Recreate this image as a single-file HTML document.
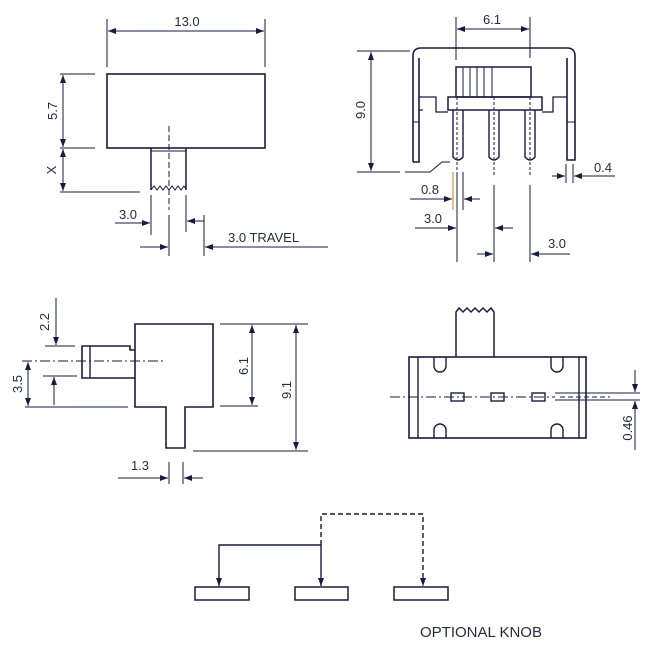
<!DOCTYPE html>
<html><head><meta charset="utf-8"><style>
html,body{margin:0;padding:0;background:#fff}
svg{display:block}
text{font-family:"Liberation Sans",sans-serif;font-size:13px;fill:#2a2a3a}
</style></head><body>
<svg width="650" height="665" viewBox="0 0 650 665" xmlns="http://www.w3.org/2000/svg">
<defs>
<marker id="a" markerWidth="8" markerHeight="6" refX="8" refY="3" orient="auto" markerUnits="userSpaceOnUse"><path d="M0,0 L8,3 L0,6 z" fill="#1a1a40"/></marker>
</defs>
<g stroke="#1a1a40" stroke-width="1" fill="none">
<!-- Top-left view -->
<line x1="107" y1="19" x2="107" y2="67"/><line x1="265" y1="19" x2="265" y2="67"/>
<line x1="187" y1="31" x2="108" y2="31" marker-end="url(#a)"/><line x1="187" y1="31" x2="264" y2="31" marker-end="url(#a)"/>
<rect x="107" y="74" width="158" height="74" stroke-width="1.6"/>
<line x1="60" y1="74" x2="95" y2="74"/><line x1="60" y1="148" x2="95" y2="148"/><line x1="60" y1="192" x2="140" y2="192"/>
<line x1="63" y1="110" x2="63" y2="75" marker-end="url(#a)"/><line x1="63" y1="110" x2="63" y2="147" marker-end="url(#a)"/>
<line x1="63" y1="170" x2="63" y2="149" marker-end="url(#a)"/><line x1="63" y1="170" x2="63" y2="191" marker-end="url(#a)"/>
<path d="M151,148 V190 M186,148 V190" stroke-width="1.5"/>
<line x1="151" y1="151" x2="186" y2="151"/>
<path d="M151,190 l3,-4 l3,4 l3,-4 l3,4 l3,-4 l3,4 l3,-4 l3,4 l3,-4 l3,4 l3,-4 l2,3"/>
<line x1="169" y1="126" x2="169" y2="210" stroke-dasharray="6,3"/>
<line x1="151" y1="195" x2="151" y2="235"/><line x1="186" y1="195" x2="186" y2="232"/>
<line x1="169" y1="215" x2="169" y2="256"/><line x1="204" y1="215" x2="204" y2="256"/>
<line x1="115" y1="223" x2="150" y2="223" marker-end="url(#a)"/>
<line x1="140" y1="247" x2="168" y2="247" marker-end="url(#a)"/>
<line x1="204" y1="221" x2="187" y2="221" marker-end="url(#a)"/>
<line x1="328" y1="247" x2="205" y2="247" marker-end="url(#a)"/>
<!-- Top-right view -->
<line x1="456" y1="17" x2="456" y2="60"/><line x1="530" y1="17" x2="530" y2="58"/>
<line x1="493" y1="29" x2="457" y2="29" marker-end="url(#a)"/><line x1="493" y1="29" x2="529" y2="29" marker-end="url(#a)"/>
<path d="M413,162 V56 Q413,48 421,48 H567 Q575,48 575,56 V160 H567 V58" stroke-width="1.6"/>
<path d="M413,162 H419 V58" stroke-width="1.6"/>
<line x1="413" y1="122" x2="419" y2="122"/><line x1="567" y1="122" x2="575" y2="122"/>
<rect x="456" y="67" width="75" height="30" stroke-width="1.5"/>
<path d="M463,67V97 M470,67V97 M477,67V97 M484,67V97 M492,67V97"/>
<rect x="448" y="97" width="94" height="13" stroke-width="1.5"/>
<path d="M419,97 H436 V112 H448 M419,110 H423" stroke-width="1.3"/>
<path d="M567,97 H553 V112 H542" stroke-width="1.3"/>
<path d="M453,110 V157 Q458,163 463,157 V110" stroke-width="1.4"/>
<path d="M489,110 V157 Q494,163 499,157 V110" stroke-width="1.4"/>
<path d="M525,110 V157 Q530,163 535,157 V110" stroke-width="1.4"/>
<g stroke-dasharray="3,2"><line x1="457" y1="97" x2="457" y2="175"/><line x1="494" y1="97" x2="494" y2="175"/><line x1="530" y1="97" x2="530" y2="175"/></g>
<line x1="357" y1="51" x2="410" y2="51"/><path d="M357,172 H400 M405,172 H430 L442,162 H450"/>
<line x1="371" y1="110" x2="371" y2="52" marker-end="url(#a)"/><line x1="371" y1="110" x2="371" y2="171" marker-end="url(#a)"/>
<line x1="566" y1="164" x2="566" y2="183"/><line x1="573" y1="164" x2="573" y2="183"/>
<line x1="552" y1="176" x2="565" y2="176" marker-end="url(#a)"/><line x1="615" y1="176" x2="574" y2="176" marker-end="url(#a)"/>
<line x1="453" y1="172" x2="453" y2="210" stroke="#c08030"/><line x1="463" y1="172" x2="463" y2="210"/>
<line x1="410" y1="199" x2="452" y2="199" marker-end="url(#a)"/><line x1="480" y1="199" x2="464" y2="199" marker-end="url(#a)"/>
<line x1="457" y1="175" x2="457" y2="262"/><line x1="494" y1="185" x2="494" y2="262"/><line x1="530" y1="185" x2="530" y2="262"/>
<line x1="415" y1="228" x2="456" y2="228" marker-end="url(#a)"/><line x1="513" y1="228" x2="495" y2="228" marker-end="url(#a)"/>
<line x1="477" y1="254" x2="493" y2="254" marker-end="url(#a)"/><line x1="570" y1="254" x2="531" y2="254" marker-end="url(#a)"/>
<!-- Bottom-left view -->
<path d="M135,324 H213 V407 H185 V448 H166 V407 H135 Z" stroke-width="1.6"/>
<path d="M135,350 H130 V346 H82 V378 H135" stroke-width="1.6"/><line x1="90" y1="346" x2="90" y2="378" stroke-width="1.4"/>
<line x1="22" y1="361" x2="165" y2="361" stroke-dasharray="10,3,2,3"/>
<line x1="45" y1="346" x2="75" y2="346"/><line x1="43" y1="376" x2="77" y2="376"/><line x1="25" y1="407" x2="128" y2="407"/>
<line x1="56" y1="298" x2="56" y2="345" marker-end="url(#a)"/>
<line x1="54" y1="405" x2="54" y2="377" marker-end="url(#a)"/>
<line x1="28" y1="384" x2="28" y2="362" marker-end="url(#a)"/><line x1="28" y1="384" x2="28" y2="406" marker-end="url(#a)"/>
<line x1="220" y1="324" x2="308" y2="324"/><line x1="220" y1="406" x2="258" y2="406"/><line x1="193" y1="451" x2="308" y2="451"/>
<line x1="252" y1="366" x2="252" y2="325" marker-end="url(#a)"/><line x1="252" y1="366" x2="252" y2="405" marker-end="url(#a)"/>
<line x1="296" y1="390" x2="296" y2="325" marker-end="url(#a)"/><line x1="296" y1="390" x2="296" y2="450" marker-end="url(#a)"/>
<line x1="169" y1="462" x2="169" y2="484"/><line x1="183" y1="462" x2="183" y2="484"/>
<line x1="118" y1="478" x2="168" y2="478" marker-end="url(#a)"/><line x1="203" y1="478" x2="184" y2="478" marker-end="url(#a)"/>
<!-- Bottom-right view -->
<rect x="409" y="357" width="177" height="81" stroke-width="1.6"/>
<line x1="418" y1="357" x2="418" y2="438" stroke-width="1.4"/><line x1="579" y1="357" x2="579" y2="438" stroke-width="1.4"/>
<path d="M456,357 V312 l3,-4 l4,4 l4,-4 l4,4 l4,-4 l4,4 l4,-4 l4,4 l4,-4 l3,4 V357" stroke-width="1.5"/>
<path d="M434,357 V366 A6,6 0 0 0 446,366 V357 M551,357 V366 A6,6 0 0 0 563,366 V357" stroke-width="1.4"/>
<path d="M434,438 V430 A6,6 0 0 1 446,430 V438 M551,438 V430 A6,6 0 0 1 563,430 V438" stroke-width="1.4"/>
<line x1="390" y1="397" x2="555" y2="397" stroke-dasharray="10,3,2,3"/>
<rect x="451" y="393" width="13" height="8" stroke-width="1.4"/><rect x="491" y="393" width="13" height="8" stroke-width="1.4"/><rect x="532" y="393" width="13" height="8" stroke-width="1.4"/>
<line x1="555" y1="393" x2="640" y2="393"/><line x1="555" y1="400" x2="640" y2="400"/>
<line x1="560" y1="397" x2="610" y2="397" stroke-dasharray="5,3"/>
<line x1="635" y1="370" x2="635" y2="392" marker-end="url(#a)"/><line x1="635" y1="450" x2="635" y2="401" marker-end="url(#a)"/>
<!-- Bottom schematic -->
<rect x="195" y="587" width="54" height="13" stroke-width="1.5"/>
<rect x="295" y="587" width="53" height="13" stroke-width="1.5"/>
<rect x="394" y="587" width="54" height="13" stroke-width="1.5"/>
<path d="M219,586 V545 H321 V586" stroke-width="1.4"/>
<line x1="219" y1="575" x2="219" y2="586" marker-end="url(#a)"/><line x1="321" y1="575" x2="321" y2="586" marker-end="url(#a)"/>
<path d="M321,545 V514 H423 V580" stroke-width="1.4" stroke-dasharray="5,3"/>
<line x1="423" y1="578" x2="423" y2="586" marker-end="url(#a)"/>
</g>
<text x="187" y="26" text-anchor="middle">13.0</text>
<text transform="translate(57,111) rotate(-90)" text-anchor="middle">5.7</text>
<text transform="translate(56,170) rotate(-90)" text-anchor="middle">X</text>
<text x="128" y="219" text-anchor="middle">3.0</text>
<text x="228" y="242">3.0 TRAVEL</text>
<text x="492" y="24" text-anchor="middle">6.1</text>
<text transform="translate(365,110) rotate(-90)" text-anchor="middle">9.0</text>
<text x="603" y="172" text-anchor="middle">0.4</text>
<text x="430" y="194" text-anchor="middle">0.8</text>
<text x="433" y="223" text-anchor="middle">3.0</text>
<text x="557" y="248" text-anchor="middle">3.0</text>
<text transform="translate(49,322) rotate(-90)" text-anchor="middle">2.2</text>
<text transform="translate(22,384) rotate(-90)" text-anchor="middle">3.5</text>
<text transform="translate(248,366) rotate(-90)" text-anchor="middle">6.1</text>
<text transform="translate(291,390) rotate(-90)" text-anchor="middle">9.1</text>
<text x="140" y="470" text-anchor="middle">1.3</text>
<text transform="translate(632,428) rotate(-90)" text-anchor="middle">0.46</text>
<text x="481" y="637" text-anchor="middle" style="font-size:15px">OPTIONAL KNOB</text>
</svg>
</body></html>
